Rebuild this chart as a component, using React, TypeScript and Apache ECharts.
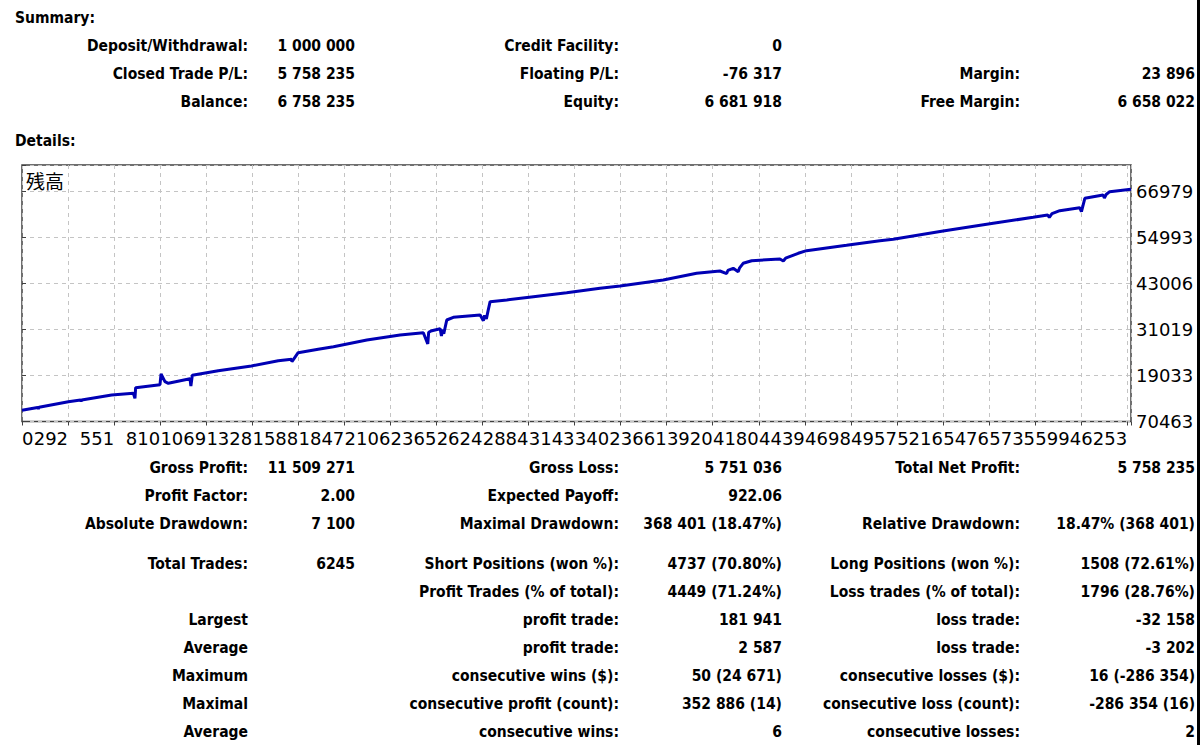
import React, { useEffect, useRef } from "react";
import * as echarts from "echarts";

// ---- Balance curve (trade number, balance) ----
const trades = [
  0, 88, 92, 96, 261, 330, 333, 336, 505, 627, 636, 640, 777, 783, 805, 824, 946, 951, 959,
  1105, 1292, 1443, 1518, 1520, 1530, 1555, 1668, 1754, 1942, 2129, 2260, 2285, 2290, 2308,
  2355, 2362, 2368, 2375, 2392, 2429, 2580, 2598, 2605, 2615, 2625, 2636, 2730, 2880, 3067,
  3255, 3368, 3611, 3799, 3930, 3968, 3975, 4005, 4033, 4040, 4061, 4109, 4268, 4287, 4300,
  4371, 4418, 4643, 4831, 4906, 5187, 5469, 5694, 5776, 5785, 5800, 5844, 5956, 5966, 5985,
  6088, 6095, 6105, 6125, 6245,
];
const balance = [
  1000000, 1072000, 1030000, 1075000, 1220900, 1262000, 1225000, 1265200, 1395400, 1439700,
  1309500, 1585700, 1663800, 1942700, 1742000, 1700300, 1820200, 1630000, 1908800,
  2028700, 2151100, 2289200, 2325700, 2263200, 2330000, 2497700, 2586300, 2654000, 2828600,
  2958900, 3018900, 2724400, 3030000, 3071000,
  3123000, 2933000, 3100000, 2990000, 3349800, 3420200, 3480100, 3331600, 3470000, 3380000,
  3600000, 3826700, 3871000, 3956900, 4061200,
  4175800, 4235800, 4392100, 4566700, 4626600, 4560000, 4640000, 4697000, 4608400, 4700000,
  4827300, 4895000, 4939300, 4887200, 4960000,
  5087900, 5155600, 5296300, 5416200, 5452700, 5669000, 5869600, 6026000, 6085900, 6026000,
  6120000, 6197900, 6276100, 6171900, 6521100,
  6607000, 6529000, 6620000, 6693000, 6758235,
];

// ---- Axis tick labels (as printed, truncated by the report) ----
const xTickLabels = [
  "0", "292", "551", "810", "1069", "1328", "1588", "1847", "2106", "2365", "2624", "2884",
  "3143", "3402", "3661", "3920", "4180", "4439", "4698", "4957", "5216", "5476", "5735",
  "5994", "6253",
];
const yTickLabels = ["70463", "19033", "31019", "43006", "54993", "66979"];

const X_MIN = 0;
const X_MAX = 6245;
const X_STEP = 259.3;
const Y_MIN = 704639;
const Y_STEP = 1198666;
const Y_MAX = 7388500;

const chartTitle = "残高";

// ---- Report text ----
const summaryTitle = "Summary:";
const detailsTitle = "Details:";
const summaryRows = [
  ["Deposit/Withdrawal:", "1 000 000", "Credit Facility:", "0", "", ""],
  ["Closed Trade P/L:", "5 758 235", "Floating P/L:", "-76 317", "Margin:", "23 896"],
  ["Balance:", "6 758 235", "Equity:", "6 681 918", "Free Margin:", "6 658 022"],
];
const detailRows = [
  ["Gross Profit:", "11 509 271", "Gross Loss:", "5 751 036", "Total Net Profit:", "5 758 235"],
  ["Profit Factor:", "2.00", "Expected Payoff:", "922.06", "", ""],
  ["Absolute Drawdown:", "7 100", "Maximal Drawdown:", "368 401 (18.47%)", "Relative Drawdown:", "18.47% (368 401)"],
  ["Total Trades:", "6245", "Short Positions (won %):", "4737 (70.80%)", "Long Positions (won %):", "1508 (72.61%)"],
  ["", "", "Profit Trades (% of total):", "4449 (71.24%)", "Loss trades (% of total):", "1796 (28.76%)"],
  ["Largest", "", "profit trade:", "181 941", "loss trade:", "-32 158"],
  ["Average", "", "profit trade:", "2 587", "loss trade:", "-3 202"],
  ["Maximum", "", "consecutive wins ($):", "50 (24 671)", "consecutive losses ($):", "16 (-286 354)"],
  ["Maximal", "", "consecutive profit (count):", "352 886 (14)", "consecutive loss (count):", "-286 354 (16)"],
  ["Average", "", "consecutive wins:", "6", "consecutive losses:", "2"],
];

const COL_RIGHT = [248, 355, 619, 782, 1020, 1195];
const TEXT_FONT = '"DejaVu Sans Condensed", "DejaVu Sans", Tahoma, sans-serif';
const AXIS_FONT = '"DejaVu Sans", sans-serif';

function boldText(text: string, x: number, y: number, align: string) {
  return {
    type: "text",
    x,
    y,
    silent: true,
    style: {
      text,
      fill: "#000",
      fontSize: 15.5,
      fontWeight: "bold",
      fontFamily: TEXT_FONT,
      align,
      verticalAlign: "middle",
    },
  };
}

export default function App() {
  const ref = useRef<HTMLDivElement>(null);

  useEffect(() => {
    if (!ref.current) return;
    const chart = echarts.init(ref.current, null, { renderer: "svg" });

    const graphics: any[] = [];
    graphics.push(boldText(summaryTitle, 15, 18, "left"));
    graphics.push(boldText(detailsTitle, 15, 141, "left"));
    summaryRows.forEach((row, r) => {
      row.forEach((cell, c) => {
        if (cell) graphics.push(boldText(cell, COL_RIGHT[c], 46 + r * 28, "right"));
      });
    });
    detailRows.forEach((row, r) => {
      const y = r < 3 ? 468 + r * 28 : 564 + (r - 3) * 28;
      row.forEach((cell, c) => {
        if (cell) graphics.push(boldText(cell, COL_RIGHT[c], y, "right"));
      });
    });
    graphics.push({
      type: "text",
      x: 26,
      y: 171,
      silent: true,
      z: 10,
      style: {
        text: chartTitle,
        fill: "#000",
        fontSize: 19,
        fontFamily: '"Noto Sans CJK JP", sans-serif',
        align: "left",
        verticalAlign: "top",
      },
    });
    graphics.push({
      type: "rect",
      silent: true,
      shape: { x: 1197, y: 0, width: 3, height: 745 },
      style: { fill: "#000" },
    });

    const gridLine = { show: true, lineStyle: { type: [4, 4], color: "#c4c4c4", width: 1 } };

    chart.setOption({
      animation: false,
      backgroundColor: "#fff",
      grid: {
        left: 22,
        right: 69,
        top: 165,
        bottom: 323.5,
        show: true,
        borderColor: "#404040",
        borderWidth: 1.5,
        backgroundColor: "#fff",
      },
      xAxis: {
        type: "value",
        min: X_MIN,
        max: X_MAX,
        interval: X_STEP,
        axisLine: { show: false },
        axisTick: { show: true, length: 4, lineStyle: { color: "#404040" } },
        splitLine: gridLine,
        axisLabel: {
          margin: 8,
          align: "right",
          alignMinLabel: "left",
          fontSize: 18,
          fontFamily: AXIS_FONT,
          color: "#000",
          formatter: (v: number) => {
            const k = Math.round((v - X_MIN) / X_STEP);
            return Math.abs(v - (X_MIN + k * X_STEP)) < 0.5 ? xTickLabels[k] ?? "" : "";
          },
        },
      },
      yAxis: {
        type: "value",
        position: "right",
        min: Y_MIN,
        max: Y_MAX,
        interval: Y_STEP,
        axisLine: { show: false },
        axisTick: { show: true, length: 4, lineStyle: { color: "#404040" } },
        splitLine: gridLine,
        axisLabel: {
          margin: 5,
          fontSize: 18,
          fontFamily: AXIS_FONT,
          color: "#000",
          formatter: (v: number) => {
            const k = Math.round((v - Y_MIN) / Y_STEP);
            return Math.abs(v - (Y_MIN + k * Y_STEP)) < 0.5 ? yTickLabels[k] ?? "" : "";
          },
        },
      },
      series: [
        {
          type: "line",
          data: trades.map((t, i) => [t, balance[i]]),
          showSymbol: false,
          symbol: "none",
          lineStyle: { color: "#0000b4", width: 3 },
          itemStyle: { color: "#0000b4" },
          z: 5,
        },
      ],
      graphic: graphics,
    });

    return () => chart.dispose();
  }, []);

  return (
    <div
      ref={ref}
      style={{ position: "absolute", left: 0, top: 0, width: 1200, height: 745, background: "#fff" }}
    />
  );
}
